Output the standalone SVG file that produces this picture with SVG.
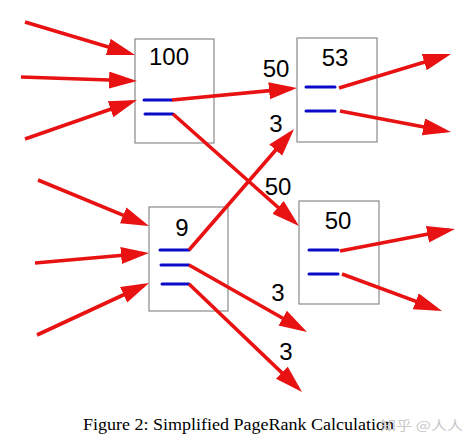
<svg xmlns="http://www.w3.org/2000/svg" width="474" height="441" viewBox="0 0 474 441">
<style>
.box{fill:#ffffff;stroke:#8a8a8a;stroke-width:1.2}
.bar{stroke:#0a0ac8;stroke-width:3;stroke-linecap:round}
.num{font-family:"Liberation Sans",Arial,sans-serif;font-size:24px;fill:#000;text-anchor:middle}
.edge{stroke:#e81212;stroke-width:3.6;fill:none;marker-end:url(#ah)}
.cap{font-family:"Liberation Serif","Times New Roman",serif;font-size:16px;fill:#000}
.wm{font-family:"Noto Sans CJK SC","Liberation Sans",sans-serif;font-size:13px;fill:#c8c8c8}
</style>
<defs>
<marker id="ah" markerUnits="userSpaceOnUse" markerWidth="30" markerHeight="18" refX="22" refY="8.5" orient="auto">
<path d="M0,0 L28,8.5 L0,17 z" fill="#e81212"/>
</marker>
</defs>
<rect width="474" height="441" fill="#ffffff"/>
<g id="node-100">
<rect class="box" x="135" y="39" width="79" height="104"/>
<text class="num" x="169" y="65">100</text>
<line class="bar" x1="144" y1="100" x2="172" y2="100"/>
<line class="bar" x1="145" y1="114" x2="173" y2="114"/>
</g>
<g id="node-53">
<rect class="box" x="297" y="38" width="80" height="104"/>
<text class="num" x="335" y="66">53</text>
<line class="bar" x1="306" y1="87" x2="335" y2="87"/>
<line class="bar" x1="306" y1="111" x2="335" y2="111"/>
</g>
<g id="node-9">
<rect class="box" x="149" y="207" width="79" height="104"/>
<text class="num" x="182" y="236">9</text>
<line class="bar" x1="160" y1="250" x2="189" y2="250"/>
<line class="bar" x1="161" y1="265" x2="189" y2="265"/>
<line class="bar" x1="162" y1="284" x2="189" y2="284"/>
</g>
<g id="node-50">
<rect class="box" x="299" y="201" width="80" height="103"/>
<text class="num" x="338" y="229">50</text>
<line class="bar" x1="309" y1="250" x2="338" y2="250"/>
<line class="bar" x1="309" y1="274" x2="338" y2="274"/>
</g>
<g id="connectors">
<line class="edge" x1="25" y1="22" x2="129.3" y2="53.3"/>
<line class="edge" x1="21" y1="77" x2="131" y2="80.8"/>
<line class="edge" x1="25" y1="139" x2="131.3" y2="102"/>
<line class="edge" x1="172" y1="100" x2="291" y2="88.6"/>
<line class="edge" x1="173" y1="114" x2="294.5" y2="222"/>
<line class="edge" x1="339" y1="88" x2="445.3" y2="55.7"/>
<line class="edge" x1="340" y1="111" x2="445.1" y2="130.9"/>
<line class="edge" x1="38" y1="180" x2="143.5" y2="223.7"/>
<line class="edge" x1="35" y1="263" x2="143" y2="253.5"/>
<line class="edge" x1="37" y1="335" x2="143.6" y2="285.5"/>
<line class="edge" x1="189" y1="250" x2="290.1" y2="133.5"/>
<line class="edge" x1="189" y1="265" x2="301.8" y2="329"/>
<line class="edge" x1="189" y1="284" x2="297.7" y2="387.9"/>
<line class="edge" x1="340" y1="251" x2="449.1" y2="230.1"/>
<line class="edge" x1="342" y1="274" x2="436.4" y2="308.9"/>
<text class="num" x="276" y="77">50</text>
<text class="num" x="276" y="132">3</text>
<text class="num" x="278" y="195">50</text>
<text class="num" x="278" y="301">3</text>
<text class="num" x="286" y="360">3</text>
</g>
<text class="cap" x="83" y="430" textLength="311" lengthAdjust="spacingAndGlyphs">Figure 2: Simplified PageRank Calculation</text>
<text class="wm" x="380" y="430" textLength="83" lengthAdjust="spacingAndGlyphs">知乎 @人人</text>
</svg>
